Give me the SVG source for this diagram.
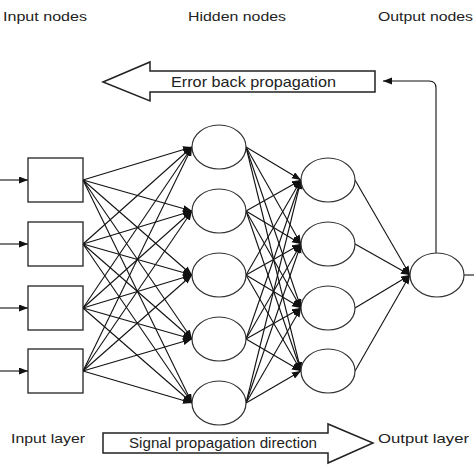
<svg xmlns="http://www.w3.org/2000/svg" width="474" height="474" viewBox="0 0 474 474">
<style>
.lbl{font-family:"Liberation Sans",Arial,sans-serif;fill:#222}
.c{stroke:#111;stroke-width:1.1;fill:none}
.box{fill:#fff;stroke:#222;stroke-width:1.3}
.nd{fill:#fff;stroke:#333;stroke-width:1.2}
.big{fill:#fff;stroke:#222;stroke-width:1.5}
</style>
<defs>
<marker id="ah" markerUnits="userSpaceOnUse" markerWidth="10" markerHeight="8" refX="9" refY="3.5" orient="auto">
<path d="M0,0 L9,3.5 L0,7 z" fill="#111"/>
</marker>
</defs>
<rect width="474" height="474" fill="#fff"/>
<g id="labels">
<text class="lbl" x="3" y="21" font-size="12" textLength="84" lengthAdjust="spacingAndGlyphs">Input nodes</text>
<text class="lbl" x="188" y="21" font-size="12" textLength="98" lengthAdjust="spacingAndGlyphs">Hidden nodes</text>
<text class="lbl" x="378" y="21" font-size="12" textLength="95" lengthAdjust="spacingAndGlyphs">Output nodes</text>
<text class="lbl" x="11" y="443" font-size="13.5" textLength="74" lengthAdjust="spacingAndGlyphs">Input layer</text>
<text class="lbl" x="378" y="443" font-size="13.5" textLength="91" lengthAdjust="spacingAndGlyphs">Output layer</text>
</g>
<g id="error-arrow">
<polygon class="big" points="103,82 150,62 150,71 375,71 375,92 150,92 150,101"/>
<text class="lbl" x="171" y="87" font-size="15" textLength="165" lengthAdjust="spacingAndGlyphs">Error back propagation</text>
</g>
<g id="signal-arrow">
<polygon class="big" points="103,433 328,433 328,424 373,443 328,463 328,453 103,453"/>
<text class="lbl" x="129" y="448" font-size="15" textLength="188" lengthAdjust="spacingAndGlyphs">Signal propagation direction</text>
</g>
<g id="connectors" class="c">
<line x1="0" y1="180" x2="28" y2="180" marker-end="url(#ah)"/>
<line x1="0" y1="244" x2="28" y2="244" marker-end="url(#ah)"/>
<line x1="0" y1="308" x2="28" y2="308" marker-end="url(#ah)"/>
<line x1="0" y1="371" x2="28" y2="371" marker-end="url(#ah)"/>
<line x1="83" y1="180" x2="192" y2="147" marker-end="url(#ah)"/>
<line x1="83" y1="180" x2="192" y2="211" marker-end="url(#ah)"/>
<line x1="83" y1="180" x2="192" y2="275" marker-end="url(#ah)"/>
<line x1="83" y1="180" x2="192" y2="339" marker-end="url(#ah)"/>
<line x1="83" y1="180" x2="192" y2="403" marker-end="url(#ah)"/>
<line x1="83" y1="244" x2="192" y2="147" marker-end="url(#ah)"/>
<line x1="83" y1="244" x2="192" y2="211" marker-end="url(#ah)"/>
<line x1="83" y1="244" x2="192" y2="275" marker-end="url(#ah)"/>
<line x1="83" y1="244" x2="192" y2="339" marker-end="url(#ah)"/>
<line x1="83" y1="244" x2="192" y2="403" marker-end="url(#ah)"/>
<line x1="83" y1="308" x2="192" y2="147" marker-end="url(#ah)"/>
<line x1="83" y1="308" x2="192" y2="211" marker-end="url(#ah)"/>
<line x1="83" y1="308" x2="192" y2="275" marker-end="url(#ah)"/>
<line x1="83" y1="308" x2="192" y2="339" marker-end="url(#ah)"/>
<line x1="83" y1="308" x2="192" y2="403" marker-end="url(#ah)"/>
<line x1="83" y1="371" x2="192" y2="147" marker-end="url(#ah)"/>
<line x1="83" y1="371" x2="192" y2="211" marker-end="url(#ah)"/>
<line x1="83" y1="371" x2="192" y2="275" marker-end="url(#ah)"/>
<line x1="83" y1="371" x2="192" y2="339" marker-end="url(#ah)"/>
<line x1="83" y1="371" x2="192" y2="403" marker-end="url(#ah)"/>
<line x1="246" y1="147" x2="301" y2="180" marker-end="url(#ah)"/>
<line x1="246" y1="147" x2="301" y2="244" marker-end="url(#ah)"/>
<line x1="246" y1="147" x2="301" y2="308" marker-end="url(#ah)"/>
<line x1="246" y1="147" x2="301" y2="371" marker-end="url(#ah)"/>
<line x1="246" y1="211" x2="301" y2="180" marker-end="url(#ah)"/>
<line x1="246" y1="211" x2="301" y2="244" marker-end="url(#ah)"/>
<line x1="246" y1="211" x2="301" y2="308" marker-end="url(#ah)"/>
<line x1="246" y1="211" x2="301" y2="371" marker-end="url(#ah)"/>
<line x1="246" y1="275" x2="301" y2="180" marker-end="url(#ah)"/>
<line x1="246" y1="275" x2="301" y2="244" marker-end="url(#ah)"/>
<line x1="246" y1="275" x2="301" y2="308" marker-end="url(#ah)"/>
<line x1="246" y1="275" x2="301" y2="371" marker-end="url(#ah)"/>
<line x1="246" y1="339" x2="301" y2="180" marker-end="url(#ah)"/>
<line x1="246" y1="339" x2="301" y2="244" marker-end="url(#ah)"/>
<line x1="246" y1="339" x2="301" y2="308" marker-end="url(#ah)"/>
<line x1="246" y1="339" x2="301" y2="371" marker-end="url(#ah)"/>
<line x1="246" y1="403" x2="301" y2="180" marker-end="url(#ah)"/>
<line x1="246" y1="403" x2="301" y2="244" marker-end="url(#ah)"/>
<line x1="246" y1="403" x2="301" y2="308" marker-end="url(#ah)"/>
<line x1="246" y1="403" x2="301" y2="371" marker-end="url(#ah)"/>
<line x1="355" y1="180" x2="410" y2="275" marker-end="url(#ah)"/>
<line x1="355" y1="244" x2="410" y2="275" marker-end="url(#ah)"/>
<line x1="355" y1="308" x2="410" y2="275" marker-end="url(#ah)"/>
<line x1="355" y1="371" x2="410" y2="275" marker-end="url(#ah)"/>
<line x1="464" y1="275" x2="474" y2="275"/>
<path d="M436,253 L436,88 Q436,81 429,81 L383,81" marker-end="url(#ah)"/>
</g>
<g id="input-nodes">
<rect id="in1" class="box" x="28" y="158" width="55" height="44"/>
<rect id="in2" class="box" x="28" y="222" width="55" height="44"/>
<rect id="in3" class="box" x="28" y="286" width="55" height="44"/>
<rect id="in4" class="box" x="28" y="349" width="55" height="44"/>
</g>
<g id="hidden-nodes">
<ellipse id="h1" class="nd" cx="219" cy="147" rx="27" ry="22"/>
<ellipse id="h2" class="nd" cx="219" cy="211" rx="27" ry="22"/>
<ellipse id="h3" class="nd" cx="219" cy="275" rx="27" ry="22"/>
<ellipse id="h4" class="nd" cx="219" cy="339" rx="27" ry="22"/>
<ellipse id="h5" class="nd" cx="219" cy="403" rx="27" ry="22"/>
</g>
<g id="hidden2-nodes">
<ellipse id="o1" class="nd" cx="328" cy="180" rx="27" ry="22"/>
<ellipse id="o2" class="nd" cx="328" cy="244" rx="27" ry="22"/>
<ellipse id="o3" class="nd" cx="328" cy="308" rx="27" ry="22"/>
<ellipse id="o4" class="nd" cx="328" cy="371" rx="27" ry="22"/>
</g>
<g id="output-node">
<ellipse id="out" class="nd" cx="437" cy="275" rx="27" ry="22"/>
</g>
</svg>
